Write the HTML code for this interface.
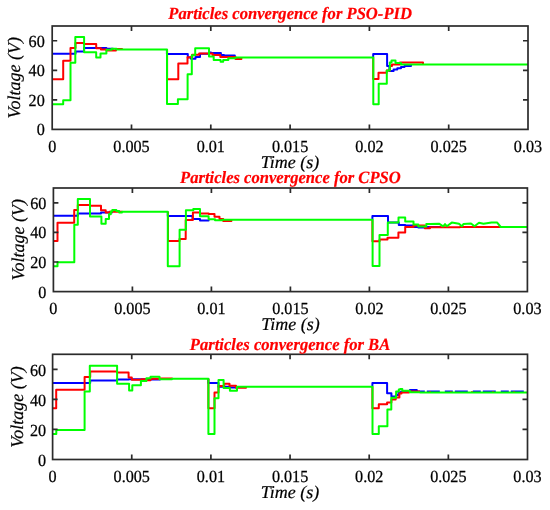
<!DOCTYPE html>
<html><head><meta charset="utf-8"><style>
html,body{margin:0;padding:0;background:#fff;}
svg{display:block;}
text{text-rendering:geometricPrecision;font-family:"Liberation Serif","Times New Roman",serif;fill:#000;}
.tk{font-size:17px;stroke:#000;stroke-width:0.25px;}
.lb{font-size:18px;font-style:italic;stroke:#000;stroke-width:0.2px;}
.tt{font-size:17.2px;font-style:italic;font-weight:bold;fill:#f00;stroke:#f00;stroke-width:0.2px;}
</style></head><body>
<svg width="550" height="510" viewBox="0 0 550 510">
<rect width="550" height="510" fill="#fff"/>
<clipPath id="c0"><rect x="52.2" y="26" width="475.8" height="103.4"/></clipPath>
<g clip-path="url(#c0)" fill="none" stroke-width="2" stroke-linejoin="round">
<path d="M50 53.8L75.5 53.8L75.5 51.6L84.1 51.6L84.1 48L106.4 48L106.4 48.8L113 48.8L113 49.6M166.9 49.6L166.9 54L187.8 54L187.8 57.5L191 57.5L191 58.7L195.5 58.7L195.5 57.1L200 57.1L200 53.8L209 53.8L209 52.4L211 52.4L211 53L220.9 53L220.9 54.9L224 54.9L224 55.6L234.8 55.6L234.8 57.6M373.2 57.6L373.2 54L387.1 54L387.1 66L389.4 66L389.4 70.9L393.6 70.9L393.6 69.5L397.3 69.5L397.3 68.2L401 68.2L401 67L404.5 67L404.5 65.9L411 65.9L411 64.5" stroke="#0000ff"/>
<path d="M50 79.25L63.2 79.25L63.2 60.7L70.5 60.7L70.5 47.9L75.5 47.9L75.5 42.9L84.1 42.9L84.1 44L96.2 44L96.2 48.2L100.9 48.2L100.9 49.6L106.4 49.6L106.4 50.4L116 50.4L116 48.9L122 48.9L122 49.6M167.1 49.6L167.1 79.25L178.3 79.25L178.3 63.4L187.5 63.4L187.5 57.2L192.2 57.2L192.2 54.8L199.1 54.8L199.1 53.6L212.6 53.6L212.6 55.1L220.3 55.1L220.3 57.1L235.5 57.1L235.5 58.9L241.4 58.9L241.4 57.6M373.2 57.6L373.2 79L378.5 79L378.5 72.8L386.7 72.8L386.7 70.5L390 70.5L390 65.9L392 65.9L392 64.5L400 64.5L400 62.6L423 62.6L423 64.5" stroke="#ff0000"/>
<path d="M50 104.3L63.2 104.3L63.2 100.35L70.5 100.35L70.5 62.8L75.3 62.8L75.3 36.9L84.1 36.9L84.1 52.2L96.2 52.2L96.2 57.6L100.5 57.6L100.5 53.5L106.4 53.5L106.4 49.8L111.5 49.8L111.5 48.7L116.5 48.7L116.5 49.6L167 49.6L167 103.9L177.9 103.9L177.9 99.2L187.6 99.2L187.6 74.3L191.8 74.3L191.8 55.3L195.2 55.3L195.2 48.2L209 48.2L209 56.4L213.7 56.4L213.7 60L220.6 60L220.6 61.7L223.2 61.7L223.2 60L228.3 60L228.3 58.2L235.5 58.2L235.5 57.6L373.3 57.6L373.3 104.2L378.7 104.2L378.7 83.8L386.8 83.8L386.8 70.5L389.8 70.5L389.8 62.5L391.5 62.5L391.5 60.5L395.5 60.5L395.5 63L401 63L401 64.5L530 64.5" stroke="#00ff00"/>
</g>
<rect x="52.2" y="26" width="475.8" height="103.4" fill="none" stroke="#2b2b2b" stroke-width="1.7"/>
<path d="M131.5 129.4v-5M131.5 26v5M210.8 129.4v-5M210.8 26v5M290.1 129.4v-5M290.1 26v5M369.4 129.4v-5M369.4 26v5M448.7 129.4v-5M448.7 26v5M52.2 99.86h5M528 99.86h-5M52.2 70.31h5M528 70.31h-5M52.2 40.77h5M528 40.77h-5" stroke="#2b2b2b" stroke-width="1.7" fill="none"/>
<text class="tk" transform="translate(52.2 151.7) scale(0.95 1)" text-anchor="middle">0</text>
<text class="tk" transform="translate(131.5 151.7) scale(0.95 1)" text-anchor="middle">0.005</text>
<text class="tk" transform="translate(210.8 151.7) scale(0.95 1)" text-anchor="middle">0.01</text>
<text class="tk" transform="translate(290.1 151.7) scale(0.95 1)" text-anchor="middle">0.015</text>
<text class="tk" transform="translate(369.4 151.7) scale(0.95 1)" text-anchor="middle">0.02</text>
<text class="tk" transform="translate(448.7 151.7) scale(0.95 1)" text-anchor="middle">0.025</text>
<text class="tk" transform="translate(528 151.7) scale(0.95 1)" text-anchor="middle">0.03</text>
<text class="tk" transform="translate(44.7 135.2) scale(0.95 1)" text-anchor="end">0</text>
<text class="tk" transform="translate(44.7 105.66) scale(0.95 1)" text-anchor="end">20</text>
<text class="tk" transform="translate(44.7 76.11) scale(0.95 1)" text-anchor="end">40</text>
<text class="tk" transform="translate(44.7 46.57) scale(0.95 1)" text-anchor="end">60</text>
<text class="lb" x="290.1" y="167.7" text-anchor="middle">Time (s)</text>
<text class="lb" transform="translate(19.6 77.7) rotate(-90)" x="0" y="0" text-anchor="middle">Voltage (V)</text>
<text class="tt" transform="translate(290.1 18.6) scale(0.965 1)" text-anchor="middle">Particles convergence for PSO-PID</text>
<clipPath id="c1"><rect x="53.4" y="188" width="474" height="103.6"/></clipPath>
<g clip-path="url(#c1)" fill="none" stroke-width="2" stroke-linejoin="round">
<path d="M50 215.8L77.8 215.8L77.8 213.6L101 213.6L101 212.5L112 212.5L112 211.8M167.8 211.8L167.8 216L192.5 216L192.5 219L200 219L200 220.5L208.6 220.5L208.6 219.7M372.4 219.7L372.4 216L388 216L388 222.4L398.8 222.4L398.8 224.9L405.2 224.9L405.2 225.6L413.5 225.6L413.5 227.1L418.3 227.1L418.3 227.5L426.3 227.5L426.3 226.9L440 226.9L440 227" stroke="#0000ff"/>
<path d="M50 241.1L57.5 241.1L57.5 222.7L74.2 222.7L74.2 209.9L77.8 209.9L77.8 204.9L90.1 204.9L90.1 205.8L101 205.8L101 210.3L105.7 210.3L105.7 212.5L109.4 212.5L109.4 211.7L122 211.7L122 211.8M168 211.8L168 241.1L179.5 241.1L179.5 238.9L185.7 238.9L185.7 220L192.9 220L192.9 212.4L200 212.4L200 213.5L208.6 213.5L208.6 214.1L214.5 214.1L214.5 216.8L219.5 216.8L219.5 218.9L223.2 218.9L223.2 221.1L231.4 221.1L231.4 219.7M372.4 219.7L372.4 241.2L379.6 241.2L379.6 239.5L387.5 239.5L387.5 237.8L398.4 237.8L398.4 232.5L405.2 232.5L405.2 226.9L413.5 226.9L413.5 225.6L418.3 225.6L418.3 225.4L424.8 225.4L424.8 228.2L430 228.2L430 227.2L460 227.2L460 227L500.7 227L500.7 227" stroke="#ff0000"/>
<path d="M50 266.2L57.5 266.2L57.5 262.2L74.3 262.2L74.3 224.8L77.8 224.8L77.8 199L90 199L90 216.5L101.4 216.5L101.4 223.7L105.7 223.7L105.7 219L109 219L109 214.3L110.8 214.3L110.8 211.4L112.3 211.4L112.3 209.9L116.3 209.9L116.3 211L119.2 211L119.2 212.5L122 212.5L122 211.8L167.8 211.8L167.8 266.2L179.6 266.2L179.6 229.8L185.9 229.8L185.9 210.2L193.3 210.2L193.3 209L200 209L200 216.2L208.6 216.2L208.6 219.3L215 219.3L215 220.2L222.3 220.2L222.3 219.7L372.6 219.7L372.6 266L379.5 266L379.5 235L387.8 235L387.8 222.4L398.5 222.4L398.5 217.5L405.2 217.5L405.2 221.6L413.5 221.6L413.5 224.5L418.3 224.5L418.3 226.6L426.3 226.6L426.3 224L430 224L430 223.9L439 223.7L443.2 226.3L445 224.1L446.8 226.2L451.8 222.6L459 223.8L461.8 226.3L463.6 223.9L471 223.5L474.5 226.3L479 222.8L483.5 223.8L491.6 222.4L497 222.4L500.7 227L530 227" stroke="#00ff00"/>
</g>
<rect x="53.4" y="188" width="474" height="103.6" fill="none" stroke="#2b2b2b" stroke-width="1.7"/>
<path d="M132.4 291.6v-5M132.4 188v5M211.4 291.6v-5M211.4 188v5M290.4 291.6v-5M290.4 188v5M369.4 291.6v-5M369.4 188v5M448.4 291.6v-5M448.4 188v5M53.4 262h5M527.4 262h-5M53.4 232.4h5M527.4 232.4h-5M53.4 202.8h5M527.4 202.8h-5" stroke="#2b2b2b" stroke-width="1.7" fill="none"/>
<text class="tk" transform="translate(53.4 313.9) scale(0.95 1)" text-anchor="middle">0</text>
<text class="tk" transform="translate(132.4 313.9) scale(0.95 1)" text-anchor="middle">0.005</text>
<text class="tk" transform="translate(211.4 313.9) scale(0.95 1)" text-anchor="middle">0.01</text>
<text class="tk" transform="translate(290.4 313.9) scale(0.95 1)" text-anchor="middle">0.015</text>
<text class="tk" transform="translate(369.4 313.9) scale(0.95 1)" text-anchor="middle">0.02</text>
<text class="tk" transform="translate(448.4 313.9) scale(0.95 1)" text-anchor="middle">0.025</text>
<text class="tk" transform="translate(527.4 313.9) scale(0.95 1)" text-anchor="middle">0.03</text>
<text class="tk" transform="translate(46.4 297.6) scale(0.95 1)" text-anchor="end">0</text>
<text class="tk" transform="translate(46.4 268) scale(0.95 1)" text-anchor="end">20</text>
<text class="tk" transform="translate(46.4 238.4) scale(0.95 1)" text-anchor="end">40</text>
<text class="tk" transform="translate(46.4 208.8) scale(0.95 1)" text-anchor="end">60</text>
<text class="lb" x="290.4" y="329.9" text-anchor="middle">Time (s)</text>
<text class="lb" transform="translate(23.6 239.8) rotate(-90)" x="0" y="0" text-anchor="middle">Voltage (V)</text>
<text class="tt" transform="translate(290.4 182.7) scale(0.965 1)" text-anchor="middle">Particles convergence for CPSO</text>
<clipPath id="c2"><rect x="52.6" y="354.3" width="474.9" height="105.2"/></clipPath>
<g clip-path="url(#c2)" fill="none" stroke-width="2" stroke-linejoin="round">
<path d="M50 382.9L90.2 382.9L90.2 380.4L117.1 380.4L117.1 379.6L128.6 379.6L128.6 379.3L146 379.3L146 379.5L160 379.5L160 378.7M208.3 378.7L208.3 382.9L218.5 382.9L218.5 386.8L229.9 386.8L229.9 387.6L236 387.6L236 386.7M372.4 386.7L372.4 383L387.1 383L387.1 393.2L391.4 393.2L391.4 396.5L396 396.5L396 395L398.5 395L398.5 392.5L401 392.5L401 391.8L409.9 391.8L409.9 390L416.8 390L416.8 391.6" stroke="#0000ff"/>
<path d="M416.8 391.6H528" stroke="#00f" stroke-dasharray="8 2 13 5"/>
<path d="M50 408.3L56.2 408.3L56.2 389.8L84.6 389.8L84.6 376.9L90.2 376.9L90.2 371.6L117.1 371.6L117.1 372.5L128.6 372.5L128.6 377.6L131.8 377.6L131.8 379.7L141.4 379.7L141.4 379.3L146.4 379.3L146.4 380.2L150.5 380.2L150.5 378.8L159.5 378.8L159.5 378.5L172 378.5L172 378.7M208.4 378.7L208.4 408.2L214.5 408.2L214.5 392.6L218.5 392.6L218.5 386L224.2 386L224.2 383.7L229.5 383.7L229.5 385.8L236 385.8L236 387.7L246 387.7L246 386.7M372.4 386.7L372.4 408.2L378.8 408.2L378.8 404.2L387.1 404.2L387.1 402.6L391.4 402.6L391.4 399.5L395.7 399.5L395.7 397.5L399.4 397.5L399.4 393.6L401.5 393.6L401.5 392.5L409 392.5L409 391.5L420 391.5" stroke="#ff0000"/>
<path d="M420 391.8H528" stroke="#f00" stroke-width="1.2" stroke-dasharray="2 19" stroke-dashoffset="-9"/>
<path d="M50 433.9L56.3 433.9L56.3 429.9L84.6 429.9L84.6 391.6L89.8 391.6L89.8 365.7L117.1 365.7L117.1 383.7L129.1 383.7L129.1 390.6L132.3 390.6L132.3 385.2L140.9 385.2L140.9 381.1L146.4 381.1L146.4 378.2L150.5 378.2L150.5 376.7L159.5 376.7L159.5 379.3L172 379.3L172 378.7L208.4 378.7L208.4 433.9L214.5 433.9L214.5 398.3L218.5 398.3L218.5 379.9L223.6 379.9L223.6 388.1L229.9 388.1L229.9 390.7L237 390.7L237 386.7L372.5 386.7L372.5 433.9L378.8 433.9L378.8 426.3L387.4 426.3L387.4 409.6L391.3 409.6L391.3 397.7L396.1 397.7L396.1 391.6L398.8 391.6L398.8 389.4L400.1 389.4L400.1 388.9L402.3 388.9L402.3 390.7L409.9 390.7L409.9 392.3L420 392.3L420 392.5L530 392.5" stroke="#00ff00"/>
</g>
<rect x="52.6" y="354.3" width="474.9" height="105.2" fill="none" stroke="#2b2b2b" stroke-width="1.7"/>
<path d="M131.75 459.5v-5M131.75 354.3v5M210.9 459.5v-5M210.9 354.3v5M290.05 459.5v-5M290.05 354.3v5M369.2 459.5v-5M369.2 354.3v5M448.35 459.5v-5M448.35 354.3v5M52.6 429.44h5M527.5 429.44h-5M52.6 399.39h5M527.5 399.39h-5M52.6 369.33h5M527.5 369.33h-5" stroke="#2b2b2b" stroke-width="1.7" fill="none"/>
<text class="tk" transform="translate(52.6 481.8) scale(0.95 1)" text-anchor="middle">0</text>
<text class="tk" transform="translate(131.75 481.8) scale(0.95 1)" text-anchor="middle">0.005</text>
<text class="tk" transform="translate(210.9 481.8) scale(0.95 1)" text-anchor="middle">0.01</text>
<text class="tk" transform="translate(290.05 481.8) scale(0.95 1)" text-anchor="middle">0.015</text>
<text class="tk" transform="translate(369.2 481.8) scale(0.95 1)" text-anchor="middle">0.02</text>
<text class="tk" transform="translate(448.35 481.8) scale(0.95 1)" text-anchor="middle">0.025</text>
<text class="tk" transform="translate(527.5 481.8) scale(0.95 1)" text-anchor="middle">0.03</text>
<text class="tk" transform="translate(46.1 465.9) scale(0.95 1)" text-anchor="end">0</text>
<text class="tk" transform="translate(46.1 435.84) scale(0.95 1)" text-anchor="end">20</text>
<text class="tk" transform="translate(46.1 405.79) scale(0.95 1)" text-anchor="end">40</text>
<text class="tk" transform="translate(46.1 375.73) scale(0.95 1)" text-anchor="end">60</text>
<text class="lb" x="290.05" y="497.8" text-anchor="middle">Time (s)</text>
<text class="lb" transform="translate(22.9 406.9) rotate(-90)" x="0" y="0" text-anchor="middle">Voltage (V)</text>
<text class="tt" transform="translate(290.05 350.2) scale(0.965 1)" text-anchor="middle">Particles convergence for BA</text>
</svg></body></html>
